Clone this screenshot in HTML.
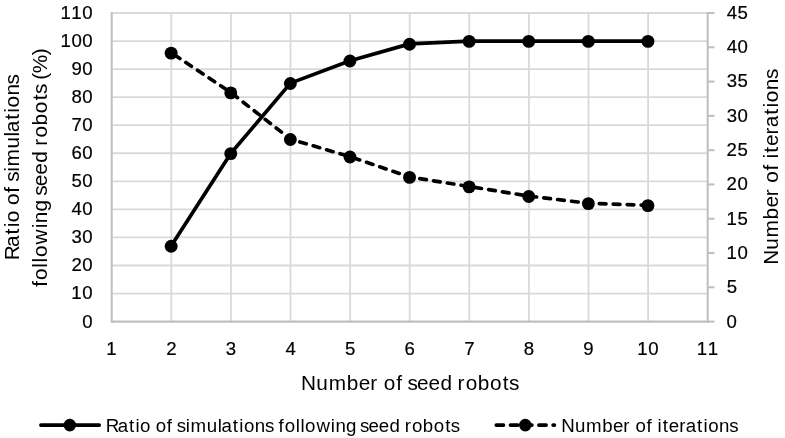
<!DOCTYPE html>
<html lang="en">
<head>
<meta charset="utf-8">
<title>Ratio of simulations following seed robots / Number of iterations</title>
<style>
html,body{margin:0;padding:0;background:#fff;}
body{width:785px;height:438px;overflow:hidden;}
svg{display:block;}
text{font-family:"Liberation Sans",sans-serif;fill:#000;}
.t{stroke:#000;stroke-width:0.2px;}
.g{stroke:#d9d9d9;stroke-width:1.8;fill:none;}
.a{stroke:#bfbfbf;stroke-width:2.05;fill:none;}
.s{stroke:#000;stroke-width:3.67;fill:none;stroke-linecap:round;stroke-linejoin:round;}
.d{stroke-dasharray:6.7 7.25;stroke-dashoffset:-3.6;}
.ld{stroke-dasharray:7.2 7;}
.m{fill:#000;}
</style>
</head>
<body>
<svg width="785" height="438" viewBox="0 0 785 438">
<rect width="785" height="438" fill="#fff"/>

<g class="g">
<line x1="111.70" x2="707.70" y1="293.55" y2="293.55"/>
<line x1="111.70" x2="707.70" y1="265.49" y2="265.49"/>
<line x1="111.70" x2="707.70" y1="237.44" y2="237.44"/>
<line x1="111.70" x2="707.70" y1="209.38" y2="209.38"/>
<line x1="111.70" x2="707.70" y1="181.33" y2="181.33"/>
<line x1="111.70" x2="707.70" y1="153.27" y2="153.27"/>
<line x1="111.70" x2="707.70" y1="125.22" y2="125.22"/>
<line x1="111.70" x2="707.70" y1="97.16" y2="97.16"/>
<line x1="111.70" x2="707.70" y1="69.11" y2="69.11"/>
<line x1="111.70" x2="707.70" y1="41.05" y2="41.05"/>
<line x1="111.70" x2="707.70" y1="13.00" y2="13.00"/>
<line x1="171.30" x2="171.30" y1="13.00" y2="321.60"/>
<line x1="230.90" x2="230.90" y1="13.00" y2="321.60"/>
<line x1="290.50" x2="290.50" y1="13.00" y2="321.60"/>
<line x1="350.10" x2="350.10" y1="13.00" y2="321.60"/>
<line x1="409.70" x2="409.70" y1="13.00" y2="321.60"/>
<line x1="469.30" x2="469.30" y1="13.00" y2="321.60"/>
<line x1="528.90" x2="528.90" y1="13.00" y2="321.60"/>
<line x1="588.50" x2="588.50" y1="13.00" y2="321.60"/>
<line x1="648.10" x2="648.10" y1="13.00" y2="321.60"/>
</g>
<g class="a">
<line x1="111.70" x2="111.70" y1="12.05" y2="322.55"/>
<line x1="707.70" x2="707.70" y1="12.05" y2="322.55"/>
<line x1="110.75" x2="708.65" y1="321.60" y2="321.60"/>
<line x1="707.70" x2="714.40" y1="321.60" y2="321.60"/>
<line x1="707.70" x2="714.40" y1="287.31" y2="287.31"/>
<line x1="707.70" x2="714.40" y1="253.02" y2="253.02"/>
<line x1="707.70" x2="714.40" y1="218.73" y2="218.73"/>
<line x1="707.70" x2="714.40" y1="184.44" y2="184.44"/>
<line x1="707.70" x2="714.40" y1="150.16" y2="150.16"/>
<line x1="707.70" x2="714.40" y1="115.87" y2="115.87"/>
<line x1="707.70" x2="714.40" y1="81.58" y2="81.58"/>
<line x1="707.70" x2="714.40" y1="47.29" y2="47.29"/>
<line x1="707.70" x2="714.40" y1="13.00" y2="13.00"/>
</g>
<g class="t">
<text transform="translate(92.90 327.50)" font-size="18.6" x="-10.58" y="0">0</text>
<text transform="translate(92.90 299.45)" font-size="18.6" x="-21.64 -10.58" y="0">10</text>
<text transform="translate(92.90 271.39)" font-size="18.6" x="-21.39 -10.58" y="0">20</text>
<text transform="translate(92.90 243.34)" font-size="18.6" x="-21.33 -10.58" y="0">30</text>
<text transform="translate(92.90 215.28)" font-size="18.6" x="-21.33 -10.58" y="0">40</text>
<text transform="translate(92.90 187.23)" font-size="18.6" x="-21.37 -10.58" y="0">50</text>
<text transform="translate(92.90 159.17)" font-size="18.6" x="-21.45 -10.58" y="0">60</text>
<text transform="translate(92.90 131.12)" font-size="18.6" x="-21.40 -10.58" y="0">70</text>
<text transform="translate(92.90 103.06)" font-size="18.6" x="-21.39 -10.58" y="0">80</text>
<text transform="translate(92.90 75.01)" font-size="18.6" x="-21.38 -10.58" y="0">90</text>
<text transform="translate(92.90 46.95)" font-size="18.6" x="-32.45 -21.39 -10.58" y="0">100</text>
<text transform="translate(92.90 18.90)" font-size="18.6" x="-32.45 -21.64 -10.58" y="0">110</text>
<text transform="translate(726.40 327.50)" font-size="18.6" x="0.23" y="0">0</text>
<text transform="translate(726.40 293.21)" font-size="18.6" x="0.25" y="0">5</text>
<text transform="translate(726.40 258.92)" font-size="18.6" x="-0.02 11.04" y="0">10</text>
<text transform="translate(726.40 224.63)" font-size="18.6" x="-0.02 11.06" y="0">15</text>
<text transform="translate(726.40 190.34)" font-size="18.6" x="0.23 11.04" y="0">20</text>
<text transform="translate(726.40 156.06)" font-size="18.6" x="0.23 11.06" y="0">25</text>
<text transform="translate(726.40 121.77)" font-size="18.6" x="0.29 11.04" y="0">30</text>
<text transform="translate(726.40 87.48)" font-size="18.6" x="0.29 11.06" y="0">35</text>
<text transform="translate(726.40 53.19)" font-size="18.6" x="0.29 11.04" y="0">40</text>
<text transform="translate(726.40 18.90)" font-size="18.6" x="0.29 11.06" y="0">45</text>
<text transform="translate(111.70 354.80)" font-size="18.6" x="-5.43" y="0">1</text>
<text transform="translate(171.30 354.80)" font-size="18.6" x="-5.17" y="0">2</text>
<text transform="translate(230.90 354.80)" font-size="18.6" x="-5.12" y="0">3</text>
<text transform="translate(290.50 354.80)" font-size="18.6" x="-5.11" y="0">4</text>
<text transform="translate(350.10 354.80)" font-size="18.6" x="-5.15" y="0">5</text>
<text transform="translate(409.70 354.80)" font-size="18.6" x="-5.24" y="0">6</text>
<text transform="translate(469.30 354.80)" font-size="18.6" x="-5.18" y="0">7</text>
<text transform="translate(528.90 354.80)" font-size="18.6" x="-5.17" y="0">8</text>
<text transform="translate(588.50 354.80)" font-size="18.6" x="-5.17" y="0">9</text>
<text transform="translate(648.10 354.80)" font-size="18.6" x="-10.83 0.23" y="0">10</text>
<text transform="translate(707.70 354.80)" font-size="18.6" x="-10.83 -0.02" y="0">11</text>
</g>
<text transform="translate(409.90 389.60) scale(1.05 1)" font-size="19.8" x="-103.66 -89.11 -77.31 -60.22 -48.72 -37.72 -30.36 -24.83 -13.07 -7.07 -2.40 6.76 17.71 29.16 39.96 45.24 53.16 64.52 76.32 88.49 94.43" y="0">Number of seed robots</text>
<text transform="translate(19.00 166.70) rotate(-90) scale(1.05 1)" font-size="19.8" x="-89.12 -76.44 -64.51 -57.75 -52.84 -41.91 -36.48 -24.84 -18.92 -14.34 -4.92 0.18 17.32 28.80 32.77 44.71 51.47 56.38 67.79 78.40" y="0">Ratio of simulations</text>
<text transform="translate(47.20 168.00) rotate(-90) scale(1.05 1)" font-size="19.8" x="-113.13 -106.57 -94.94 -89.89 -84.87 -72.86 -57.51 -52.53 -41.33 -31.14 -26.46 -17.31 -6.36 5.09 15.89 21.18 29.09 40.45 52.25 64.42 70.37 79.27 83.99 90.24 107.50" y="0">following seed robots (%)</text>
<text transform="translate(777.60 167.10) rotate(-90) scale(1.05 1)" font-size="19.8" x="-93.07 -78.64 -66.96 -49.99 -38.59 -27.67 -20.36 -14.90 -3.22 2.72 8.25 13.77 20.19 31.11 38.00 49.98 56.76 61.71 73.17 83.82" y="0">Number of iterations</text>
<polyline class="s d" points="171.30,52.78 230.90,92.55 290.50,139.18 350.10,156.67 409.70,177.04 469.30,186.50 528.90,196.10 588.50,203.23 648.10,205.29"/>
<polyline class="s" points="171.30,245.85 230.90,153.27 290.50,83.14 350.10,60.69 409.70,43.86 469.30,41.05 528.90,41.05 588.50,41.05 648.10,41.05"/>
<g class="m">
<circle cx="171.15" cy="53.13" r="6.45"/>
<circle cx="230.75" cy="92.90" r="6.45"/>
<circle cx="290.35" cy="139.53" r="6.45"/>
<circle cx="349.95" cy="157.02" r="6.45"/>
<circle cx="409.55" cy="177.39" r="6.45"/>
<circle cx="469.15" cy="186.85" r="6.45"/>
<circle cx="528.75" cy="196.45" r="6.45"/>
<circle cx="588.35" cy="203.58" r="6.45"/>
<circle cx="647.95" cy="205.64" r="6.45"/>
<circle cx="171.15" cy="246.20" r="6.45"/>
<circle cx="230.75" cy="153.62" r="6.45"/>
<circle cx="290.35" cy="83.49" r="6.45"/>
<circle cx="349.95" cy="61.04" r="6.45"/>
<circle cx="409.55" cy="44.21" r="6.45"/>
<circle cx="469.15" cy="41.40" r="6.45"/>
<circle cx="528.75" cy="41.40" r="6.45"/>
<circle cx="588.35" cy="41.40" r="6.45"/>
<circle cx="647.95" cy="41.40" r="6.45"/>
</g>
<line class="s" x1="40.9" x2="99.2" y1="425.1" y2="425.1"/>
<circle class="m" cx="69.8" cy="425.1" r="6.3"/>
<text transform="translate(107.10 431.70) scale(1.05 1)" font-size="17.8" x="-1.41 10.06 20.85 26.97 31.44 41.32 46.25 56.78 62.14 66.31 74.81 79.48 94.98 105.36 108.98 119.77 125.89 130.35 140.69 150.29 158.26 163.35 169.20 179.61 184.12 188.60 199.32 213.07 217.51 227.51 236.64 240.81 248.99 258.78 269.02 278.68 283.40 290.47 300.62 311.18 322.06 327.37" y="0">Ratio of simulations following seed robots</text>
<line class="s ld" x1="496.3" x2="554.4" y1="425.1" y2="425.1"/>
<circle class="m" cx="525.3" cy="425.1" r="6.3"/>
<text transform="translate(561.40 431.70) scale(1.05 1)" font-size="17.8" x="-0.07 12.97 23.54 38.86 49.16 59.03 65.63 70.58 81.12 86.50 91.49 96.48 102.30 112.16 118.40 129.21 135.34 139.83 150.19 159.81" y="0">Number of iterations</text>
</svg>
</body>
</html>
